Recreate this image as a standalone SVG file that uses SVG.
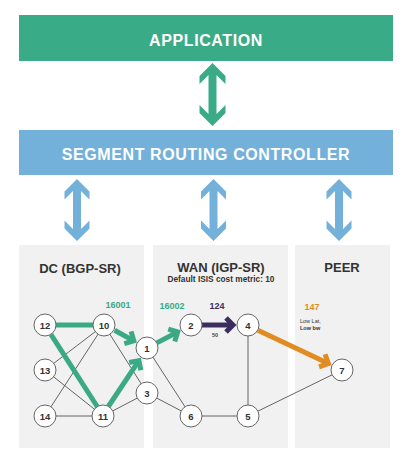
<svg xmlns="http://www.w3.org/2000/svg" width="407" height="460" viewBox="0 0 407 460">
<defs>
<style>
.t{font-family:"Liberation Sans",Arial,sans-serif;font-weight:bold;text-anchor:middle}
.band{fill:#fff;font-size:16px;letter-spacing:0.6px}
.panel{fill:#f1f1f1}
.ptitle{fill:#333;font-size:13px}
.node circle{fill:#fff;stroke:#666;stroke-width:1}
.node text{font-family:"Liberation Sans",Arial,sans-serif;font-weight:bold;font-size:9.5px;fill:#333;text-anchor:middle}
.thin{stroke:#555;stroke-width:0.9;fill:none}
.g{stroke:#3aaa86;stroke-width:5;fill:none}
.p{stroke:#3b2d5e;stroke-width:5;fill:none}
.o{stroke:#e08c22;stroke-width:5;fill:none}
.lbl{font-family:"Liberation Sans",Arial,sans-serif;font-weight:bold;text-anchor:middle}
</style>
<marker id="ahG" viewBox="0 0 20 20" refX="14" refY="10" markerWidth="20" markerHeight="20" markerUnits="userSpaceOnUse" orient="auto" overflow="visible"><path d="M7,3 L14,10 L7,17" fill="none" stroke="#3aaa86" stroke-width="5"/></marker>
<marker id="ahP" viewBox="0 0 20 20" refX="14" refY="10" markerWidth="20" markerHeight="20" markerUnits="userSpaceOnUse" orient="auto" overflow="visible"><path d="M7,3 L14,10 L7,17" fill="none" stroke="#3b2d5e" stroke-width="5"/></marker>
<marker id="ahO" viewBox="0 0 20 20" refX="14" refY="10" markerWidth="20" markerHeight="20" markerUnits="userSpaceOnUse" orient="auto" overflow="visible"><path d="M7,3 L14,10 L7,17" fill="none" stroke="#e08c22" stroke-width="5"/></marker>
</defs>
<rect width="407" height="460" fill="#fff"/>

<g id="application">
<rect x="19" y="15" width="374" height="46" fill="#3aab87"/>
<text class="t band" x="206" y="46">APPLICATION</text>
</g>

<g id="controller">
<rect x="19" y="130" width="374" height="45" fill="#74b1da"/>
<text class="t band" x="206" y="160">SEGMENT ROUTING CONTROLLER</text>
</g>

<g id="big-arrows">
<polygon fill="#3aab87" points="212.5,63 225.5,76 225.5,84 216.5,75 216.5,114 225.5,105 225.5,113 212.5,126 199.5,113 199.5,105 208.5,114 208.5,75 199.5,84 199.5,76"/>
<polygon fill="#74b1da" points="77,179 89.5,191.5 89.5,199.5 81,191 81,229 89.5,220.5 89.5,228.5 77,241 64.5,228.5 64.5,220.5 73,229 73,191 64.5,199.5 64.5,191.5"/>
<polygon fill="#74b1da" points="213.5,179 226,191.5 226,199.5 217.5,191 217.5,229 226,220.5 226,228.5 213.5,241 201,228.5 201,220.5 209.5,229 209.5,191 201,199.5 201,191.5"/>
<polygon fill="#74b1da" points="339,179 351.5,191.5 351.5,199.5 343,191 343,229 351.5,220.5 351.5,228.5 339,241 326.5,228.5 326.5,220.5 335,229 335,191 326.5,199.5 326.5,191.5"/>
</g>

<g id="panel-dc">
<rect class="panel" x="19" y="245" width="125" height="203"/>
<text class="t ptitle" x="80" y="273">DC (BGP-SR)</text>
</g>
<g id="panel-wan">
<rect class="panel" x="153" y="245" width="135" height="203"/>
<text class="t ptitle" x="221" y="272">WAN (IGP-SR)</text>
<text class="t" x="221" y="282" font-size="8.3" fill="#333">Default ISIS cost metric: 10</text>
</g>
<g id="panel-peer">
<rect class="panel" x="295" y="245" width="95" height="203"/>
<text class="t ptitle" x="342" y="272">PEER</text>
</g>

<g id="connectors">
<line class="thin" x1="104" y1="325" x2="45" y2="370"/>
<line class="thin" x1="104" y1="325" x2="45" y2="416"/>
<line class="thin" x1="104" y1="325" x2="147" y2="393"/>
<line class="thin" x1="45" y1="370" x2="103" y2="416"/>
<line class="thin" x1="45" y1="416" x2="103" y2="416"/>
<line class="thin" x1="103" y1="416" x2="147" y2="393"/>
<line class="thin" x1="147" y1="348" x2="191" y2="416"/>
<line class="thin" x1="147" y1="393" x2="191" y2="416"/>
<line class="thin" x1="191" y1="416" x2="248" y2="416"/>
<line class="thin" x1="248" y1="416" x2="248" y2="325" stroke="#999"/>
<line class="thin" x1="248" y1="416" x2="342" y2="370"/>
<line class="g" x1="56" y1="325" x2="93" y2="325"/>
<line class="g" x1="50.9" y1="334.3" x2="97.5" y2="407"/>
<line class="g" x1="114.6" y1="330.2" x2="133.8" y2="340.9" marker-end="url(#ahG)"/>
<line class="g" x1="108" y1="407" x2="138.9" y2="360.6" marker-end="url(#ahG)"/>
<line class="g" x1="156.8" y1="342.9" x2="177.7" y2="332" marker-end="url(#ahG)"/>
<line class="p" x1="202" y1="325" x2="233" y2="325" marker-end="url(#ahP)"/>
<line class="o" x1="257.9" y1="330.2" x2="328.4" y2="363.6" marker-end="url(#ahO)"/>
</g>

<g id="labels">
<text class="lbl" x="118" y="308" font-size="9" fill="#3aaa86">16001</text>
<text class="lbl" x="172" y="309" font-size="9" fill="#3aaa86">16002</text>
<text class="lbl" x="217" y="309" font-size="9" fill="#3b2d5e">124</text>
<text class="lbl" x="215" y="337" font-size="5.5" fill="#444">50</text>
<text class="lbl" x="312" y="310" font-size="9" fill="#e08c22">147</text>
<text x="300" y="323" font-family="Liberation Sans,Arial,sans-serif" font-size="5.5" fill="#333">Low Lat,</text>
<text x="300" y="329.5" font-family="Liberation Sans,Arial,sans-serif" font-weight="bold" font-size="5.5" fill="#333">Low bw</text>
</g>

<g id="node-12" class="node"><circle cx="45" cy="325" r="11"/><text x="45" y="328.5">12</text></g>
<g id="node-10" class="node"><circle cx="104" cy="325" r="11"/><text x="104" y="328.5">10</text></g>
<g id="node-13" class="node"><circle cx="45" cy="370" r="11"/><text x="45" y="373.5">13</text></g>
<g id="node-14" class="node"><circle cx="45" cy="416" r="11"/><text x="45" y="419.5">14</text></g>
<g id="node-11" class="node"><circle cx="103" cy="416" r="11"/><text x="103" y="419.5">11</text></g>
<g id="node-1" class="node"><circle cx="147" cy="348" r="11"/><text x="147" y="351.5">1</text></g>
<g id="node-3" class="node"><circle cx="147" cy="393" r="11"/><text x="147" y="396.5">3</text></g>
<g id="node-2" class="node"><circle cx="191" cy="325" r="11"/><text x="191" y="328.5">2</text></g>
<g id="node-4" class="node"><circle cx="248" cy="325" r="11"/><text x="248" y="328.5">4</text></g>
<g id="node-6" class="node"><circle cx="191" cy="416" r="11"/><text x="191" y="419.5">6</text></g>
<g id="node-5" class="node"><circle cx="248" cy="416" r="11"/><text x="248" y="419.5">5</text></g>
<g id="node-7" class="node"><circle cx="342" cy="370" r="11"/><text x="342" y="373.5">7</text></g>
</svg>
